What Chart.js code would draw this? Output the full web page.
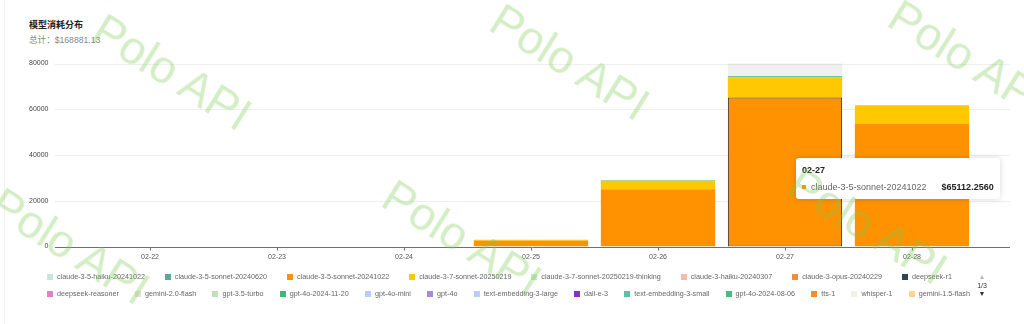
<!DOCTYPE html>
<html>
<head>
<meta charset="utf-8">
<script src="https://cdn.jsdelivr.net/npm/chart.js@4.4.1/dist/chart.umd.min.js"></script>
<style>
  html, body { margin: 0; padding: 0; background: #fff; }
  body { width: 1024px; height: 324px; position: relative; overflow: hidden;
         font-family: "Liberation Sans", "Noto Sans CJK SC", sans-serif; }
  .card { position: absolute; left: 4px; top: 0; bottom: 0; border-left: 1px solid #f0f0f0; }
  #title { position: absolute; left: 29px; top: 19px; font-size: 9px; line-height: 12px; font-weight: bold; color: #222; }
  #total { position: absolute; left: 29px; top: 34px; font-size: 8.6px; line-height: 12px; color: #888; }
  canvas { position: absolute; left: 0; top: 0; }
  #legend { position: absolute; left: 47px; top: 268px; font-size: 7.2px; color: #666; }
  .row { display: flex; align-items: center; justify-content: space-between; height: 17px; white-space: nowrap; }
  .r1 { width: 905px; }
  .r2 { width: 923px; }
  .item { display: flex; align-items: center; }
  .sw { width: 6px; height: 6px; margin-right: 4px; }
  #pager { position: absolute; left: 975px; top: 273px; width: 14px; text-align: center; font-size: 7px; line-height: 8.5px; color: #333; }
  #pager .off { color: #bbb; }
  #tip { position: absolute; background: #fff; border-radius: 3px; box-shadow: 0 0 6px rgba(0,0,0,0.16);
         padding: 6px 6px 6px 6px; font-size: 9px; pointer-events: none; white-space: nowrap; }
  #tip .t { font-weight: bold; color: #222; line-height: 12px; }
  #tip .r { display: flex; align-items: center; margin-top: 5px; line-height: 12px; }
  #tip .m { width: 4px; height: 4px; margin-right: 5px; }
  #tip .n { color: #666; }
  #tip .v { font-weight: bold; color: #222; margin-left: 15px; }
  .wm { position: absolute; font-size: 46px; color: rgba(120, 200, 80, 0.33); white-space: nowrap;
        transform: translate(-50%, -50%) rotate(32deg); pointer-events: none; z-index: 10; }
</style>
</head>
<body>
<div class="card"></div>
<div id="title">模型消耗分布</div>
<div id="total">总计：$168881.13</div>
<canvas id="c" width="1024" height="324"></canvas>
<div id="legend"></div>
<div id="pager"><div class="off">▲</div><div>1/3</div><div>▼</div></div>
<div id="tip" style="display:none"></div>
<script>
// x categories
const categories = ["02-22", "02-23", "02-24", "02-25", "02-26", "02-27", "02-28"];

// series values ($ per day)
const sonnet35New = [0, 0, 0, 2500, 25000, 65112.256, 53800];   // claude-3-5-sonnet-20241022
const sonnet37 = [0, 0, 0, 500, 3750, 8900, 8000];              // claude-3-7-sonnet-20250219
const gpt4o1120 = [0, 0, 0, 0, 200, 400, 0];                    // gpt-4o-2024-11-20

const yTicks = [0, 20000, 40000, 60000, 80000];

// legend page 1/3, two rows
const legendRow1 = ["claude-3-5-haiku-20241022", "claude-3-5-sonnet-20240620", "claude-3-5-sonnet-20241022",
  "claude-3-7-sonnet-20250219", "claude-3-7-sonnet-20250219-thinking", "claude-3-haiku-20240307",
  "claude-3-opus-20240229", "deepseek-r1"];
const legendRow2 = ["deepseek-reasoner", "gemini-2.0-flash", "gpt-3.5-turbo", "gpt-4o-2024-11-20", "gpt-4o-mini",
  "gpt-4o", "text-embedding-3-large", "dall-e-3", "text-embedding-3-small", "gpt-4o-2024-08-06", "tts-1",
  "whisper-1", "gemini-1.5-flash"];

const palette = {
  "claude-3-5-haiku-20241022": "#c6e6dc",
  "claude-3-5-sonnet-20240620": "#5aa996",
  "claude-3-5-sonnet-20241022": "#ff9200",
  "claude-3-7-sonnet-20250219": "#ffc800",
  "claude-3-7-sonnet-20250219-thinking": "#c8eac6",
  "claude-3-haiku-20240307": "#f4bcaa",
  "claude-3-opus-20240229": "#f0903c",
  "deepseek-r1": "#2f4554",
  "deepseek-reasoner": "#e77dc5",
  "gemini-2.0-flash": "#e8e2d6",
  "gpt-3.5-turbo": "#c4e0b6",
  "gpt-4o-2024-11-20": "#3cb878",
  "gpt-4o-mini": "#b8cff5",
  "gpt-4o": "#a68ad6",
  "text-embedding-3-large": "#b9cff0",
  "dall-e-3": "#8b2fc0",
  "text-embedding-3-small": "#5fbfa6",
  "gpt-4o-2024-08-06": "#48bb88",
  "tts-1": "#f5901a",
  "whisper-1": "#eef3e6",
  "gemini-1.5-flash": "#f8d490"
};

const stacked = [
  ["claude-3-5-sonnet-20241022", sonnet35New],
  ["claude-3-7-sonnet-20250219", sonnet37],
  ["gpt-4o-2024-11-20", gpt4o1120]
];

// watermark centres
const marks = [[172, 72], [570, 62], [968, 58], [70, 246], [462, 238], [868, 226]];
marks.forEach(([x, y]) => {
  const d = document.createElement("div");
  d.className = "wm";
  d.textContent = "Polo API";
  d.style.left = x + "px";
  d.style.top = y + "px";
  document.body.appendChild(d);
});

// legend
const legendEl = document.getElementById("legend");
[legendRow1, legendRow2].forEach((names, i) => {
  const row = document.createElement("div");
  row.className = "row r" + (i + 1);
  names.forEach(n => {
    const it = document.createElement("div");
    it.className = "item";
    it.innerHTML = `<span class="sw" style="background:${palette[n]}"></span><span>${n}</span>`;
    row.appendChild(it);
  });
  legendEl.appendChild(row);
});

const tipEl = document.getElementById("tip");
function externalTip({ chart, tooltip }) {
  if (tooltip.opacity === 0) { tipEl.style.display = "none"; return; }
  const dp = tooltip.dataPoints[0];
  const name = dp.dataset.label;
  tipEl.innerHTML = `<div class="t">${tooltip.title[0]}</div>` +
    `<div class="r"><span class="m" style="background:${palette[name]}"></span>` +
    `<span class="n">${name}</span><span class="v">$${dp.raw.toFixed(4)}</span></div>`;
  tipEl.style.display = "block";
  tipEl.style.left = (tooltip.caretX + 11) + "px";
  tipEl.style.top = (tooltip.caretY + 60) + "px";
}

const frame = {
  id: "frame",
  beforeDatasetsDraw(chart) {
    const { ctx, chartArea: a, scales: { y } } = chart;
    ctx.save();
    ctx.lineWidth = 1;
    ctx.strokeStyle = "#efefef";
    yTicks.forEach(v => {
      if (v === 0) return;
      const py = Math.round(y.getPixelForValue(v)) + 0.5;
      ctx.beginPath();
      ctx.moveTo(a.left - 31.5, py);
      ctx.lineTo(a.right + 34.5, py);
      ctx.stroke();
    });
    const act = chart.getActiveElements()[0];
    if (act) {
      const el = act.element;
      ctx.fillStyle = "rgba(0,0,0,0.06)";
      ctx.fillRect(el.x - el.width / 2, a.top, el.width, a.bottom - a.top);
    }
    ctx.restore();
  },
  afterDatasetsDraw(chart) {
    const { ctx, chartArea: a, scales: { y } } = chart;
    const py = Math.round(y.getPixelForValue(0)) + 0.5;
    ctx.save();
    ctx.strokeStyle = "#6e7079";
    ctx.lineWidth = 1;
    ctx.beginPath();
    ctx.moveTo(a.left - 31.5, py);
    ctx.lineTo(a.right + 34.5, py);
    ctx.stroke();
    ctx.restore();
  }
};

const chart = new Chart(document.getElementById("c"), {
  type: "bar",
  data: {
    labels: categories,
    datasets: stacked.map(([name, vals]) => ({
      label: name,
      data: vals,
      backgroundColor: palette[name],
      hoverBackgroundColor: palette[name],
      borderWidth: 0,
      hoverBorderWidth: 1,
      hoverBorderColor: "#2e2312",
      borderSkipped: false,
      categoryPercentage: 0.9,
      barPercentage: 1
    }))
  },
  options: {
    responsive: false,
    animation: false,
    layout: { padding: { top: 63.5, right: 48.5, bottom: 57.5, left: 0 } },
    events: [],
    plugins: {
      legend: { display: false },
      tooltip: { enabled: false, external: externalTip, mode: "nearest", position: "average" }
    },
    scales: {
      x: {
        stacked: true,
        afterFit(s) { s.height = 20; },
        border: { display: false },
        grid: { display: true, drawOnChartArea: false, offset: false, tickLength: 4, color: "#6e7079" },
        ticks: { font: { size: 7, family: "Liberation Sans" }, color: "#555", padding: 2, maxRotation: 0 }
      },
      y: {
        stacked: true,
        min: 0,
        max: 80000,
        afterFit(s) { s.width = 86.5; },
        afterBuildTicks(s) { s.ticks = yTicks.map(v => ({ value: v })); },
        border: { display: false },
        grid: { display: false, drawTicks: false },
        ticks: { font: { size: 7, family: "Liberation Sans" }, color: "#444", padding: 38, callback: v => String(v) }
      }
    }
  },
  plugins: [frame]
});

const hovered = [{ datasetIndex: 0, index: 5 }];
chart.setActiveElements(hovered);
chart.tooltip.setActiveElements(hovered, { x: 786, y: 170 });
chart.update();
</script>
</body>
</html>
